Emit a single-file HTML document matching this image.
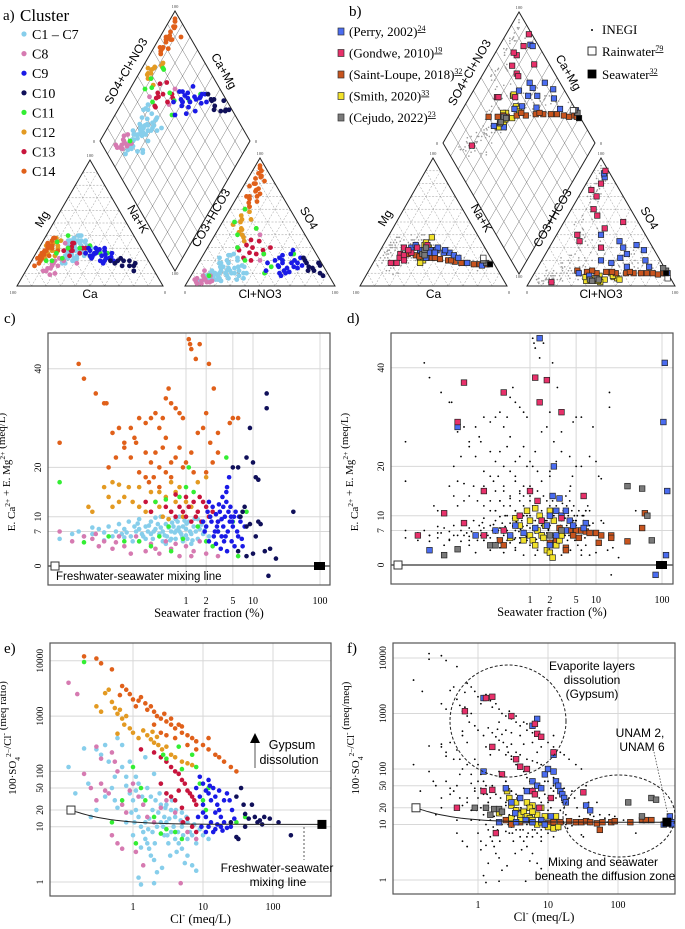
<!DOCTYPE html>
<html><head><meta charset="utf-8"><style>
html,body{margin:0;padding:0;background:#fff}
svg{display:block;font-family:"Liberation Serif",serif}
.sans{font-family:"Liberation Sans",sans-serif}
</style></head><body>
<svg id="fig" width="685" height="929" viewBox="0 0 685 929" xmlns="http://www.w3.org/2000/svg">
<g id="gA"></g>
<g id="gB"></g>
<g id="gC"></g>
<g id="gD"></g>
<g id="gE"></g>
<g id="gF"></g>
<text x="3" y="20" font-size="15">a)</text>
<text x="20" y="21" font-size="17">Cluster</text>
<text x="349" y="16" font-size="15">b)</text>
<text x="4" y="323" font-size="15">c)</text>
<text x="347" y="323" font-size="15">d)</text>
<text x="4" y="653" font-size="15">e)</text>
<text x="347" y="653" font-size="15">f)</text>
</svg>
<script>
// ---------- Piper data panel a: [Ca%, Mg%, Cl%, SO4%] ----------
const pA_lb=[[48,30,14,8],[44,33,18,10],[52,26,12,6],[40,36,22,12],[46,30,16,15],[54,22,20,6],[42,30,26,10],[38,36,18,20],[56,22,10,5],[46,28,18,12],[40,34,14,18],[50,25,24,8],[44,34,18,5],[40,32,30,12],[58,18,10,8],[42,38,12,6],[45,30,20,18],[44,26,32,8],[48,32,15,10],[50,22,22,14],[38,40,15,8],[52,28,18,15],[36,35,24,22],[42,36,26,6],[55,24,12,10],[37,40,17,14],[50,20,28,10],[44,33,12,22],[35,36,32,15],[50,26,24,12],[34,30,36,10],[40,36,20,25],[60,18,8,4],[47,24,15,6],[45,36,32,5],[52,20,15,18],[48,22,36,6],[36,32,22,10],[54,28,22,4],[42,24,18,24],[46,36,28,15],[39,28,12,12],[50,30,34,10],[43,28,25,20],[57,22,18,8],[36,40,14,6],[49,33,30,16],[41,27,20,5],[47,36,17,24],[53,24,26,14]];
const pA_pink=[[72,14,6,3],[68,16,9,4],[66,18,5,6],[76,12,7,2],[70,14,11,5],[64,16,13,3],[67,18,8,8],[60,22,10,2],[74,12,4,5],[58,20,16,4],[69,10,7,12],[50,18,40,20],[64,20,13,8],[50,34,20,30],[44,26,30,40],[73,9,10,6],[62,24,15,3]];
const pA_orange=[[68,27,8,85],[62,32,6,80],[66,28,10,75],[72,22,5,88],[58,36,8,70],[64,30,12,82],[74,20,4,78],[56,38,10,65],[70,26,6,90],[60,32,14,72],[69,25,9,68],[63,32,5,84],[61,30,11,76],[76,18,7,80],[55,38,12,62],[67,28,13,70],[62,34,4,92],[72,24,10,74],[80,16,6,70],[58,28,8,86],[66,24,15,66],[75,22,3,94]];
const pA_gold=[[63,30,12,50],[58,34,15,45],[66,26,10,55],[60,34,18,40],[56,32,14,58],[70,22,8,48],[62,28,20,38],[54,38,12,52],[64,32,16,44],[60,27,10,60],[66,28,22,35],[62,24,15,42],[52,36,25,45],[68,25,12,62],[57,30,18,52]];
const pA_crimson=[[48,28,30,30],[44,26,35,25],[50,30,25,32],[40,30,38,28],[52,24,28,22],[44,34,32,35],[38,30,40,25],[49,28,22,28],[54,28,26,36],[40,26,42,30],[45,34,34,20],[47,31,30,26]];
const pA_green=[[50,30,30,20],[34,32,50,15],[60,26,15,40],[42,30,40,25],[66,20,10,60],[30,26,55,20],[55,35,20,30],[38,24,48,10],[70,20,8,50],[45,40,25,45],[25,26,60,25],[58,22,12,8]];
const pA_blue=[[34,26,55,15],[30,24,60,12],[26,28,62,18],[38,24,50,20],[33,20,58,10],[27,25,65,15],[36,28,52,22],[24,23,68,14],[31,30,56,18],[38,22,48,12],[28,22,63,20],[33,26,60,8],[22,26,66,22],[35,25,54,16],[32,27,58,25],[26,22,64,11],[40,26,46,18],[29,29,61,14],[24,20,70,16],[37,23,53,24],[30,20,58,28],[36,30,62,10],[25,30,55,20],[32,18,66,18]];
const pA_navy=[[17,20,75,15],[15,16,80,12],[21,20,72,18],[12,16,85,10],[18,22,78,14],[24,18,70,20],[13,20,82,16],[20,16,76,12],[10,18,88,8],[26,20,68,22],[14,12,80,18]];
// ---------- Piper data panel b ----------
const pB_perry=[[50,30,10,85],[46,32,8,88],[34,28,50,30],[26,26,60,15],[30,26,55,25],[38,28,45,35],[44,22,40,20],[18,18,75,15],[24,24,65,28],[32,30,52,22],[40,30,30,40],[45,28,30,10],[22,22,70,20],[9,16,90,10],[36,26,48,18],[28,28,58,32],[40,26,38,8]];
const pB_gondwe=[[60,25,8,90],[62,22,10,80],[55,30,12,70],[52,26,20,55],[66,18,15,60],[46,30,30,45],[58,24,18,35],[42,28,40,50],[60,20,15,3],[53,28,14,40],[38,32,35,30],[70,18,6,75]];
const pB_saint=[[55,25,28,12],[50,24,35,11],[45,23,42,10],[40,22,48,11],[35,21,55,10],[30,20,62,10],[26,19,67,10],[22,18,72,10],[18,18,76,10],[14,17,80,10],[10,17,84,9],[7,17,87,10],[5,17,88,10],[48,23,38,12],[38,22,52,11],[28,20,64,11]];
const pB_smith=[[45,25,40,5],[42,28,45,8],[40,24,50,5],[48,22,38,4],[38,30,44,6],[44,22,55,7],[46,26,48,3],[36,28,52,10],[47,20,42,5],[40,32,58,6],[50,18,46,4],[34,28,54,8],[43,26,36,7],[38,34,60,5],[32,38,42,6]];
const pB_cejudo=[[45,25,40,5],[42,28,44,6],[44,24,46,5],[5,18,88,12],[6,20,85,14],[40,30,42,4]];
const pB_sea=[[3,17,89,10]];
const pB_rain=[[5,22,92,6]];
// ---------- Panel c: [seawater %, Ca+Mg meq/L] ----------
const c_lb=[[0.013,5.5],[0.02,6.5],[0.025,7],[0.03,6],[0.04,6.5],[0.05,7.5],[0.06,6.8],[0.07,8],[0.08,6],[0.09,7],[0.1,8.5],[0.11,6.5],[0.12,7.5],[0.14,9],[0.15,6],[0.17,8],[0.18,7],[0.2,9.5],[0.22,6.5],[0.25,8],[0.27,7],[0.3,9],[0.32,5.5],[0.35,7.5],[0.38,8.5],[0.4,6.5],[0.42,10],[0.45,7],[0.5,8.5],[0.52,6],[0.55,9.5],[0.6,7],[0.65,8],[0.7,5.5],[0.75,9],[0.8,7],[0.85,6.5],[0.9,8],[1,7.5],[1.05,5.5],[1.1,9],[1.2,6.5],[1.3,8],[1.4,7],[1.5,5.5],[1.6,7.5],[1.8,6.5],[2,8],[2.2,6],[0.3,6.5],[0.45,5],[0.6,5.5],[0.7,9.5],[0.9,5],[1.2,4.5],[0.5,4.5],[0.25,5.5],[0.16,5],[0.8,10],[1.5,9.5],[0.2,7.5],[0.35,9.8],[0.55,7.8],[1,6.2],[0.12,5.8],[0.06,5.2],[0.04,7.8],[0.28,8.2],[0.33,7],[0.48,6.2],[0.62,8.8],[0.68,6.8],[0.78,7.8],[0.95,9.2],[1.15,7],[1.25,5.2],[1.35,9.6],[1.7,8.4],[1.9,7.2],[0.42,7.8],[0.58,5.2],[0.72,7.2],[0.88,5.8],[1.02,8.6],[0.23,6],[0.19,8.6],[0.13,6.8]];
const c_pink=[[0.013,7],[0.02,5],[0.03,6],[0.04,5.5],[0.05,4],[0.06,5],[0.08,3.5],[0.1,6],[0.12,4],[0.15,2.5],[0.2,5],[0.25,3],[0.3,4.5],[0.4,2.5],[0.5,5],[0.6,3.5],[0.8,2],[1,4],[1.3,3],[1.6,5],[2,2.5],[3,2],[0.18,6],[0.7,4.5],[1.2,2],[0.35,3.5],[0.045,6.5],[0.09,4.8]];
const c_gold=[[0.035,12],[0.04,11],[0.06,16],[0.07,14],[0.08,12],[0.1,13],[0.12,14],[0.14,16],[0.16,13],[0.2,12],[0.25,11],[0.3,15],[0.35,13],[0.4,12],[0.5,14],[0.6,11],[0.7,15],[0.8,16],[1,13],[1.2,12],[1.5,17],[2,18],[0.45,10],[0.55,9.5],[0.9,10],[0.1,16.5],[0.08,17],[0.2,16],[0.3,11],[0.6,17],[0.7,13],[0.4,15]];
const c_orange=[[0.025,41],[0.03,38],[0.045,35],[0.06,33],[0.065,33],[0.013,25],[0.08,27],[0.1,28],[0.12,25],[0.15,28],[0.17,26],[0.2,30],[0.25,29],[0.3,30],[0.35,31],[0.4,28],[0.45,30],[0.5,34],[0.55,36],[0.6,33],[0.7,32],[0.8,31],[0.9,30],[1.1,46],[1.15,45],[1.2,44],[1.4,42],[1.6,45],[2,31],[2.2,41],[2.6,36],[1.5,27],[1.8,28],[2.3,25],[3,23],[0.07,20],[0.09,22],[0.12,24],[0.15,22],[0.2,19],[0.25,18],[0.3,21],[0.35,23],[0.4,20],[0.45,24],[0.5,26],[0.6,21],[0.7,22],[0.8,24],[1,21],[1.3,19],[2,19],[5,30],[6,30],[4.5,29],[3,27],[0.28,17],[0.33,18],[0.4,16],[0.6,18],[0.9,20],[1.2,23],[0.5,19],[0.25,23],[0.18,25],[2.5,21]];
const c_crimson=[[0.5,12],[0.6,11],[0.7,10],[0.8,12],[0.9,11],[1,10],[1.1,12],[1.2,9],[1.3,13],[1.4,10],[1.5,11],[1.7,9],[2,12],[2.2,10],[0.25,13],[0.3,11],[1.8,13],[1.6,14],[2.5,11],[1,14],[0.7,14.5],[3,9]];
const c_green=[[0.013,17],[0.07,6],[0.12,5],[0.3,4],[0.6,3],[0.9,5.5],[1.5,8],[2,5],[3,7],[4,22],[5,9],[6,2],[7,11],[8,11],[0.35,13],[0.5,13.5],[1,16],[1.3,15],[0.8,14],[1.1,20],[0.4,6],[0.55,8],[2.5,4],[0.2,5],[0.03,4.8]];
const c_blue=[[2,8],[2.3,10],[2.5,12],[2.7,7],[3,9],[3.2,11],[3.4,6],[3.6,8],[3.8,10],[4,13],[4.2,7],[4.5,9],[4.8,5],[5,8],[5.5,11],[6,6],[6.5,9],[7,4],[2.2,5],[2.8,4.5],[3.1,12.5],[3.5,14],[4,15],[4.1,16],[4.4,18],[4.6,12],[5.2,10],[3.3,3.5],[2.6,6],[1.9,7],[2.1,11],[2.9,8],[3.7,5],[4.3,11],[5.8,7],[6.2,10],[7.5,8],[1.8,9],[2.4,9],[3,7],[3.9,6],[4.7,10],[5.3,4],[2.2,13],[2.8,10.5],[3.4,9.5],[3.6,12],[4.9,9],[4.1,3],[6.8,5.5]];
const c_navy=[[6,20],[9,28],[16,35],[16,32],[11,18],[12,17.5],[8,22],[10,21],[7,11],[7.5,12],[8,8],[9,8.5],[12,9],[13,8.5],[40,11],[6,3],[8,2],[10,2.5],[15,3],[18,3.5],[22,1.5],[17,-2],[5,20],[6.5,10],[11,6]];
// ---------- Panel e: [Cl meq/L, 100*SO4/Cl] ----------
const e_lb=[[0.12,120],[0.15,40],[0.2,260],[0.23,60],[0.3,250],[0.35,200],[0.4,300],[0.45,150],[0.5,50],[0.55,80],[0.6,400],[0.7,120],[0.8,80],[0.9,40],[1,30],[1.1,20],[1.2,15],[1.3,10],[1.4,8],[1.5,6],[1.6,5],[1.7,4],[1.8,3],[2,2.5],[2.2,1.5],[2.5,25],[3,12],[3.5,8],[4,6],[4.5,5],[5,4],[6,3],[7,2],[8,1.6],[0.25,15],[0.3,20],[0.4,35],[0.6,22],[0.8,12],[1,7],[1.2,1.2],[1.3,0.9],[2,0.95],[1.5,180],[2,90],[2.5,60],[3,40],[3.5,20],[4,15],[5,10],[6,12],[7,7],[8,5],[9,9],[10,7],[12,6],[1.8,35],[2.8,15],[0.9,150],[1.1,80],[1.6,50],[0.7,300],[2.2,10],[3.2,5],[4.2,3.5],[5.5,2.2],[1.3,4.2],[0.55,30],[2.6,1.8],[1.9,20],[2.4,40],[3,25],[4,30],[1.5,12],[0.8,55],[2.8,7],[5,18],[6.5,8],[1.2,60],[1.4,25],[1.7,14],[2.1,30],[2.3,18],[2.7,10],[3.3,14],[3.8,10],[4.4,8],[5.2,7],[6,6],[1.1,45],[1.9,8],[2.5,12],[3.1,7],[3.6,30],[4.8,13],[0.95,18],[1.35,35],[2.9,22],[4.1,20],[5.8,15],[7.5,11],[1.65,9],[2.05,5],[3.4,3],[1.05,12]];
const e_pink=[[0.12,4000],[0.16,2500],[0.2,90],[0.25,50],[0.3,30],[0.35,60],[0.4,45],[0.45,40],[0.5,220],[0.55,150],[0.6,100],[0.7,25],[0.8,18],[0.9,45],[1,60],[1.2,35],[1.4,25],[1.6,15],[2,12],[2.5,22],[3,30],[4,18],[5,12],[6,8],[8,6],[0.5,7],[0.6,5],[0.7,4],[1.1,3.5],[1.4,2],[4.8,0.95],[0.3,280],[0.35,170]];
const e_gold=[[0.3,1500],[0.35,1200],[0.4,2600],[0.5,1800],[0.55,1400],[0.6,1100],[0.7,900],[0.75,700],[0.9,600],[1,500],[1.2,400],[1.4,550],[1.6,450],[1.8,380],[2,330],[2.3,300],[2.6,250],[3,280],[3.5,200],[4,180],[5,150],[6,140],[7,130],[2.2,420],[1.9,520],[0.6,480],[0.8,1000],[0.45,3000],[0.65,1300]];
const e_orange=[[0.2,12000],[0.3,11000],[0.35,9000],[0.5,7000],[0.7,3500],[0.8,3000],[0.9,2500],[1,2000],[1.2,1900],[1.3,2200],[1.5,1700],[1.8,1500],[2,1200],[2.2,1000],[2.5,900],[3,800],[3.5,700],[4,600],[4.5,700],[5,500],[6,450],[7,400],[8,350],[10,300],[12,250],[15,200],[20,150],[25,120],[30,100],[2,700],[2.5,500],[3,450],[4,400],[6,300],[8,250],[1.6,1300],[2.8,1100],[3.5,900],[5,650],[0.65,2400],[1.1,1500],[12,400],[17,180]];
const e_crimson=[[1.3,250],[2,220],[2.5,180],[3,150],[3.5,120],[4,100],[4.5,90],[5,70],[5.5,60],[6,45],[6.5,40],[7,35],[7.5,30],[8,25],[3,40],[3.5,35],[4,30],[5,22],[6,14],[7,10],[8,8],[2.5,60],[5.2,12],[4.5,45]];
const e_green=[[0.2,9500],[2.7,200],[3,170],[1,120],[1.3,50],[1.5,30],[2,15],[2.5,7.5],[3,9],[4,8],[5,6],[7,200],[8,120],[9,60],[10,30],[11,20],[12,50],[4.5,280],[5,110],[30,12],[40,15],[1.1,5],[0.7,30],[0.5,12]];
const e_blue=[[9,80],[10,60],[11,45],[12,40],[13,30],[14,50],[15,35],[16,25],[17,20],[18,15],[20,12],[22,40],[24,30],[26,20],[11,15],[12,10],[13,12],[14,8],[15,9],[16,11],[18,10],[10,25],[9,35],[8,50],[8.5,15],[9.5,10],[12,70],[20,30],[25,10],[28,14],[10,18],[12.5,55],[15,18],[17,45],[19,8.5],[22,9.5],[11,8]];
const e_navy=[[30,35],[35,50],[38,25],[40,17],[45,14],[50,25],[55,15],[60,12],[65,13],[75,15],[90,14],[120,12],[180,7],[30,6.5],[32,6],[40,10],[25,12],[70,11]];
// ---------- Panel d squares ----------
const d_perry=[[1.4,46],[110,41],[105,29],[120,15],[115,2],[80,-2],[2.3,20],[2.2,14],[2.8,13.5],[0.08,28],[0.03,3],[1.5,9],[2,10],[2.5,11],[3,10],[3.5,11],[4,9],[4.5,8],[7,8.5],[6.5,7.5],[0.15,6],[0.3,7],[0.5,6],[0.8,6.5],[1.2,7.5],[1.8,8],[2.5,6],[3.5,7],[2,4],[0.6,8]];
const d_gondwe=[[0.1,37],[1.2,38],[1.8,37.5],[0.4,35],[1.4,33],[3,31],[0.08,29],[0.2,15],[1,15],[1.3,13],[6.5,14],[0.05,10.5],[0.1,8.5],[0.02,6],[0.7,10],[1.5,9],[3,9.5],[0.2,6],[0.4,7]];
const d_saint=[[4,7],[5,7],[6,7],[7,6.8],[8,6.5],[10,6.5],[12,6],[17,6],[17,5.5],[11,4.5],[30,4.8],[50,7.5],[55,10.5],[3.5,3.5],[3.5,3],[2.5,5],[3,6.5],[2,4.5],[0.35,5],[0.4,4],[1.5,6],[2.8,7.5],[4.5,6],[5.5,5.5]];
const d_smith=[[0.6,9.5],[0.7,8],[0.9,11],[1,6],[1.1,5],[1.2,4],[1.3,7],[1.5,6],[1.6,5.5],[1.8,3],[2,2.5],[2.2,1.5],[2.5,4],[2.8,5],[3,6],[0.8,5],[1,9],[1.4,10],[2,11],[1.7,8],[0.5,5.5],[1.2,11.5],[2.3,9]];
const d_cejudo=[[0.08,3.2],[0.05,2],[0.25,4],[0.3,4],[30,16],[50,15.5],[60,10],[70,5],[2,6],[3,7]];
// ---------- Panel f squares ----------
const f_perry=[[1.2,1900],[7,800],[6,600],[12,180],[13,60],[14,50],[15,40],[16,35],[17,30],[18,25],[6,60],[7,50],[8,45],[9,80],[10,100],[12,90],[5,40],[4,30],[3,25],[2.5,45],[1.2,90],[35,22],[40,18],[550,14],[600,11],[650,10],[450,10],[11,14],[3.5,11],[2,11],[6,11],[8,12],[4.8,12],[3.4,16],[9,10]];
const f_gondwe=[[0.65,1100],[1.6,2000],[1.3,1900],[3,900],[6.5,650],[7,430],[8,380],[1.6,250],[12,200],[3.5,150],[4,110],[5,100],[2.2,80],[1.2,40],[1.6,42],[0.5,20],[1.8,7],[6,40],[6.5,35],[11,30],[32,38],[7.5,20]];
const f_saint=[[15,11],[20,11.5],[25,11],[30,11],[35,11.5],[40,11],[50,10.5],[60,11],[80,11],[90,11.5],[150,11],[220,12],[250,12],[300,12],[55,8],[2.5,12],[3,10],[4,11],[12,11],[10,10.5],[8,11],[6,11],[5,12]];
const f_smith=[[2.6,40],[2.8,30],[3,22],[3.5,18],[4,15],[4.5,17],[5,14],[5.5,13],[6,12],[7,10],[8,11],[9,10],[10,9],[12,8.5],[14,9],[3.5,25],[5,25],[6,22],[8,20],[2,16],[4,12],[5.5,20],[7,15],[9,14],[13,14],[3,13],[6,17]];
const f_cejudo=[[0.9,20],[1.3,20],[1.7,19],[2,19],[2.2,17],[1.5,15],[140,25],[300,30],[350,28],[220,14]];
// tick labels
const cxTicks=[1,2,5,10,100];
const cyTicks=[0,7,10,20,40];
const exTicks=[1,10,100];
const eyTicks=[1,10,20,50,100,1000,10000];

const NS='http://www.w3.org/2000/svg';
const COL={lb:'#87ceeb',pink:'#d67ab1',gold:'#e39a22',orange:'#e0601a',crimson:'#c8143c',green:'#33ee33',blue:'#1a1ae6',navy:'#10105a',
 perry:'#4a6cf0',gondwe:'#e8306a',saint:'#c8541e',smith:'#f2e22a',cejudo:'#7a7a7a'};
function mk(tag,attrs,parent,txt){const e=document.createElementNS(NS,tag);for(const k in attrs)e.setAttribute(k,attrs[k]);if(txt!==undefined)e.textContent=txt;parent.appendChild(e);return e;}
const lerp=(a,b,t)=>[a[0]+(b[0]-a[0])*t,a[1]+(b[1]-a[1])*t];

function piper(g,cfg,series,bgSeries){
  const {A,B,C,H,Cv,S,L,T,Bd,R}=cfg;
  const grid=mk('g',{stroke:'#999','stroke-width':0.5,'stroke-dasharray':'2,1.5',fill:'none'},g);
  
  
  [[A,B,C],[H,Cv,S]].forEach(tri=>{
    for(let i=1;i<10;i++){const t=i/10;
      for(let v=0;v<3;v++){const V=tri[v],P=tri[(v+1)%3],Q=tri[(v+2)%3];const p1=lerp(V,P,t),p2=lerp(V,Q,t);
        mk('line',{x1:p1[0],y1:p1[1],x2:p2[0],y2:p2[1]},grid);}
    }});
  const dg=mk('g',{stroke:'#777','stroke-width':0.5,fill:'none'},g);
  
  
  for(let i=1;i<10;i++){const t=i/10;
    let p1=lerp(L,T,t),p2=lerp(Bd,R,t);mk('line',{x1:p1[0],y1:p1[1],x2:p2[0],y2:p2[1]},dg);
    p1=lerp(L,Bd,t);p2=lerp(T,R,t);mk('line',{x1:p1[0],y1:p1[1],x2:p2[0],y2:p2[1]},dg);}
  const ol=mk('g',{stroke:'#222','stroke-width':1,fill:'none'},g);
  
  
  mk('polygon',{points:[A,B,C].map(p=>p.join(',')).join(' ')},ol);
  mk('polygon',{points:[H,Cv,S].map(p=>p.join(',')).join(' ')},ol);
  mk('polygon',{points:[L,T,R,Bd].map(p=>p.join(',')).join(' ')},ol);
  const pos=s=>{const ca=s[0],mg=s[1],na=100-ca-mg,cl=s[2],so=s[3],hc=100-cl-so;
    const c1=[(ca*A[0]+na*B[0]+mg*C[0])/100,(ca*A[1]+na*B[1]+mg*C[1])/100];
    const c2=[(hc*H[0]+cl*Cv[0]+so*S[0])/100,(hc*H[1]+cl*Cv[1]+so*S[1])/100];
    const a=(cl+so)/100,n=na/100;
    const c3=[L[0]+a*(T[0]-L[0])+n*(Bd[0]-L[0]),L[1]+a*(T[1]-L[1])+n*(Bd[1]-L[1])];
    return [c1,c2,c3];};
  if(bgSeries){const bg=mk('g',{fill:'#999'},g);
    
    
    bgSeries.forEach(arr=>arr.forEach(s=>pos(s).forEach(p=>mk('circle',{cx:p[0],cy:p[1],r:0.8},bg))));}
  series.forEach(se=>{const sg=mk('g',{},g);
    
    
    se.data.forEach(s=>pos(s).forEach(p=>{
      if(se.sq){const e=mk('rect',{x:p[0]-2.7,y:p[1]-2.7,width:5.4,height:5.4,fill:se.col,stroke:'#222','stroke-width':0.7},sg);
        
        }
      else{const e=mk('circle',{cx:p[0],cy:p[1],r:2.4,fill:se.col},sg);
        
        }
    }));});
  const lab=(x,y,rot,t,nm,fs)=>{const e=mk('text',{x:x,y:y,'font-size':fs||12,'text-anchor':'middle',class:'sans',transform:`rotate(${rot} ${x} ${y})`},g,t);
    
    };
  const mid=(p,q)=>[(p[0]+q[0])/2,(p[1]+q[1])/2];
  let m=mid(A,C);lab(m[0]-8,m[1]-2,-60,'Mg','cation-mg-label');
  m=mid(B,C);lab(m[0]+8,m[1]-2,60,'Na+K','cation-nak-label');
  lab((A[0]+B[0])/2,B[1]+12,0,'Ca','cation-ca-label');
  m=mid(H,S);lab(m[0]-8,m[1]-2,-60,'CO3+HCO3','anion-hco3-label');
  m=mid(Cv,S);lab(m[0]+8,m[1]-2,60,'SO4','anion-so4-label');
  lab((H[0]+Cv[0])/2,Cv[1]+12,0,'Cl+NO3','anion-cl-label');
  m=mid(L,T);lab(m[0]-8,m[1]-3,-60,'SO4+Cl+NO3','diamond-so4cl-label');
  m=mid(T,R);lab(m[0]+8,m[1]-3,60,'Ca+Mg','diamond-camg-label');
  [[A,'100',-4,8],[B,'0',2,8],[C,'100',0,-3],[H,'0',0,8],[Cv,'100',0,8],[S,'100',0,-3],[L,'0',-6,2],[R,'0',6,2],[T,'100',0,-3],[Bd,'100',0,4]].forEach(v=>{
    const e=mk('text',{x:v[0][0]+v[2],y:v[0][1]+v[3],'font-size':4.5,'text-anchor':'middle',fill:'#444'},g,v[1]);
    
    });
}
const gA=document.getElementById('gA'),gB=document.getElementById('gB');
piper(gA,{A:[17,286],B:[163,286],C:[90,160],H:[185,286],Cv:[335,286],S:[260,158],L:[100,141],T:[175,11],Bd:[175,271],R:[250,141]},
 [{name:'cluster-c1-c7',data:pA_lb,col:COL.lb},{name:'cluster-c8',data:pA_pink,col:COL.pink},{name:'cluster-c12',data:pA_gold,col:COL.gold},{name:'cluster-c14',data:pA_orange,col:COL.orange},{name:'cluster-c13',data:pA_crimson,col:COL.crimson},{name:'cluster-c11',data:pA_green,col:COL.green},{name:'cluster-c9',data:pA_blue,col:COL.blue},{name:'cluster-c10',data:pA_navy,col:COL.navy}]);
piper(gB,{A:[360,286],B:[507,286],C:[433,158],H:[527,286],Cv:[675,286],S:[601,158],L:[443,143],T:[519,12],Bd:[519,274],R:[595,143]},
 [{name:'smith-2020',data:pB_smith,col:COL.smith,sq:1},{name:'saint-loupe-2018',data:pB_saint,col:COL.saint,sq:1},{name:'perry-2002',data:pB_perry,col:COL.perry,sq:1},{name:'gondwe-2010',data:pB_gondwe,col:COL.gondwe,sq:1},{name:'cejudo-2022',data:pB_cejudo,col:COL.cejudo,sq:1},{name:'rainwater',data:pB_rain,col:'#fff',sq:1},{name:'seawater',data:pB_sea,col:'#000',sq:1}],
 [pA_lb,pA_pink,pA_gold,pA_orange,pA_crimson,pA_green,pA_blue,pA_navy]);

const lgA=[['C1 – C7',COL.lb],['C8',COL.pink],['C9',COL.blue],['C10',COL.navy],['C11',COL.green],['C12',COL.gold],['C13',COL.crimson],['C14',COL.orange]];
lgA.forEach((l,i)=>{const y=34+i*19.6;const g=mk('g',{},gA);
  
  
  mk('circle',{cx:24,cy:y,r:2.6,fill:l[1]},g);mk('text',{x:32,y:y+5,'font-size':14},g,l[0]);});
const lgB=[['(Perry, 2002)','24',COL.perry],['(Gondwe, 2010)','19',COL.gondwe],['(Saint-Loupe, 2018)','32',COL.saint],['(Smith, 2020)','33',COL.smith],['(Cejudo, 2022)','23',COL.cejudo]];
lgB.forEach((l,i)=>{const y=32+i*21.5;const g=mk('g',{},gB);
  
  
  mk('rect',{x:338,y:y-4,width:6,height:7,fill:l[2],stroke:'#333','stroke-width':0.7},g);
  const t=mk('text',{x:349,y:y+4,'font-size':13},g,l[0]);mk('tspan',{'font-size':8,dy:-5,'text-decoration':'underline'},t,l[1]);});
[['INEGI',null,30],['Rainwater','79',52],['Seawater','32',75]].forEach((l,i)=>{const g=mk('g',{},gB);
  
  
  if(i==0)mk('circle',{cx:592,cy:l[2],r:1,fill:'#000'},g);
  else mk('rect',{x:588,y:l[2]-5,width:8,height:8,fill:i==1?'#fff':'#000',stroke:'#000','stroke-width':0.8},g);
  const t=mk('text',{x:602,y:l[2]+4,'font-size':13},g,l[0]);if(l[1])mk('tspan',{'font-size':8,dy:-5,'text-decoration':'underline'},t,l[1]);});

function frame(g,box,xs,ys,xt,yt,xlOff){
  const [x0,y0,x1,y1]=box;
  const gr=mk('g',{stroke:'#d8d8d8','stroke-width':1},g);
  
  
  xt.forEach(v=>mk('line',{x1:xs(v),y1:y0,x2:xs(v),y2:y1},gr));
  yt.forEach(v=>mk('line',{x1:x0,y1:ys(v),x2:x1,y2:ys(v)},gr));
  const xa=mk('g',{'font-size':10,'text-anchor':'middle'},g);
  
  
  xt.forEach(v=>mk('text',{x:xs(v),y:y1+xlOff},xa,String(v)));
  const ya=mk('g',{'font-size':9.5,'text-anchor':'middle'},g);
  
  
  yt.forEach(v=>{const x=x0-10,y=ys(v);mk('text',{x:x,y:y+3,transform:`rotate(-90 ${x} ${y})`},ya,String(v));});
}
function box(g,b){const e=mk('rect',{x:b[0],y:b[1],width:b[2]-b[0],height:b[3]-b[1],fill:'none',stroke:'#555','stroke-width':1.2},g);
  
  }
function dots(g,arr,xs,ys,col,r,nm,b){const sg=mk('g',{fill:col},g);
  
  
  arr.forEach(p=>{const x=xs(p[0]),y=ys(p[1]);if(x<b[0]||x>b[2]||y<b[1]||y>b[3])return;
    const e=mk('circle',{cx:x,cy:y,r:r},sg);
    
    });}
function squares(g,arr,xs,ys,col,nm,b){const sg=mk('g',{fill:col,stroke:'#222','stroke-width':0.7},g);
  
  
  arr.forEach(p=>{let x=xs(p[0]),y=ys(p[1]);x=Math.min(Math.max(x,b[0]+3),b[2]-3);
    const e=mk('rect',{x:x-2.8,y:y-2.8,width:5.6,height:5.6},sg);
    
    });}
const L10=Math.log10;
const clusterC=[[c_lb,COL.lb,'c1-c7'],[c_pink,COL.pink,'c8'],[c_gold,COL.gold,'c12'],[c_orange,COL.orange,'c14'],[c_crimson,COL.crimson,'c13'],[c_green,COL.green,'c11'],[c_blue,COL.blue,'c9'],[c_navy,COL.navy,'c10']];
const clusterE=[[e_lb,COL.lb,'c1-c7'],[e_pink,COL.pink,'c8'],[e_gold,COL.gold,'c12'],[e_orange,COL.orange,'c14'],[e_crimson,COL.crimson,'c13'],[e_green,COL.green,'c11'],[e_blue,COL.blue,'c9'],[e_navy,COL.navy,'c10']];

function ylab(g,x,y,parts,nm){const t=mk('text',{x:x,y:y,'font-size':11,'text-anchor':'middle',transform:`rotate(-90 ${x} ${y})`},g);
  
  
  parts.forEach(p=>{if(typeof p==='string')mk('tspan',{},t,p);else mk('tspan',{'font-size':7.5,dy:p[1]},t,p[0]);});}

function panelCD(g,b,xs,ys,isD){
  frame(g,b,xs,ys,cxTicks,cyTicks,19);
  const ml=mk('line',{x1:b[0],y1:ys(0),x2:b[2],y2:ys(0),stroke:'#333','stroke-width':1.2},g);
  
  
  if(!isD){clusterC.forEach(c=>dots(g,c[0],xs,ys,c[1],2.3,'cluster-'+c[2],b));}
  else{clusterC.forEach(c=>dots(g,c[0],xs,ys,'#000',0.9,'inegi-points',b));
    squares(g,d_saint,xs,ys,COL.saint,'saint-loupe-2018',b);squares(g,d_smith,xs,ys,COL.smith,'smith-2020',b);
    squares(g,d_perry,xs,ys,COL.perry,'perry-2002',b);squares(g,d_gondwe,xs,ys,COL.gondwe,'gondwe-2010',b);squares(g,d_cejudo,xs,ys,COL.cejudo,'cejudo-2022',b);}
  const rw=mk('rect',{x:b[0]+3,y:ys(0)-4,width:8,height:8,fill:'#fff',stroke:'#333'},g);
  
  
  [xs(100)-3,xs(100)+2].forEach(x=>{const s=mk('rect',{x:x-3,y:ys(0)-4,width:6,height:8,fill:'#000'},g);
    
    });
  box(g,b);
  const xl=mk('text',{x:(b[0]+b[2])/2+20,y:b[3]+32,'font-size':12.5,'text-anchor':'middle'},g,'Seawater fraction (%)');
  
  
  ylab(g,b[0]-33,472,['E. Ca',['2+',-5],['',5],' + E. Mg',['2+',-5],['',5],' (meq/L)'],'y-axis-title');
}
const bC=[48,333,330,585],bD=[391,333,673,584];
const gC=document.getElementById('gC'),gD=document.getElementById('gD');
panelCD(gC,bC,v=>186+67*L10(v),v=>566-4.93*v,false);
panelCD(gD,bD,v=>530+66*L10(v),v=>565-4.93*v,true);
{const t=mk('text',{x:56,y:580,'font-size':11.5,class:'sans'},gC,'Freshwater-seawater mixing line');
 
 }

function panelEF(g,b,xs,ys,isF){
  frame(g,b,xs,ys,exTicks,eyTicks,14);
  if(!isF){clusterE.forEach(c=>dots(g,c[0],xs,ys,c[1],2.3,'cluster-'+c[2],b));}
  else{clusterE.forEach(c=>dots(g,c[0],xs,ys,'#000',0.9,'inegi-points',b));
    squares(g,f_saint,xs,ys,COL.saint,'saint-loupe-2018',b);squares(g,f_smith,xs,ys,COL.smith,'smith-2020',b);
    squares(g,f_perry,xs,ys,COL.perry,'perry-2002',b);squares(g,f_gondwe,xs,ys,COL.gondwe,'gondwe-2010',b);squares(g,f_cejudo,xs,ys,COL.cejudo,'cejudo-2022',b);}
  let d='';for(let i=0;i<=60;i++){const f=Math.pow(10,-6+6*i/60);const cl=0.13*(1-f)+550*f,so=0.026*(1-f)+60.5*f;
    const x=xs(cl),y=ys(100*so/cl);d+=(i?'L':'M')+x.toFixed(1)+','+y.toFixed(1);}
  const mc=mk('path',{d:d,fill:'none',stroke:'#222','stroke-width':1},g);
  
  
  const rw=mk('rect',{x:xs(0.13)-4,y:ys(20)-4,width:8,height:8,fill:'#fff',stroke:'#333'},g);
  
  
  const sw=mk('rect',{x:xs(500)-4.5,y:ys(11)-4.5,width:9,height:9,fill:'#000'},g);
  
  
  box(g,b);
  const xl=mk('text',{x:(b[0]+b[2])/2+10,y:b[3]+27,'font-size':13,'text-anchor':'middle'},g);
  
  
  mk('tspan',{},xl,'Cl');mk('tspan',{'font-size':8,dy:-5},xl,'-');mk('tspan',{dy:5},xl,'  (meq/L)');
  ylab(g,b[0]-34,738,['100·SO',['4',4],['2−',-9],['',5],'/Cl',['-',-5],['',5],isF?' (meq/meq)':' (meq ratio)'],'y-axis-title');
}
const bE=[50,643,331,896],bF=[393,643,675,894];
const gE=document.getElementById('gE'),gF=document.getElementById('gF');
panelEF(gE,bE,v=>133+70*L10(v),v=>882-55.3*L10(v),false);
panelEF(gF,bF,v=>478+70*L10(v),v=>880-55.5*L10(v),true);
{const a=mk('g',{},gE);
 mk('line',{x1:255,y1:768,x2:255,y2:742,stroke:'#aaa','stroke-width':2},a);
 mk('polygon',{points:'250,743 260,743 255,733',fill:'#000'},a);
 const t=mk('text',{x:292,y:749,'font-size':12.5,'text-anchor':'middle',class:'sans'},gE);
 mk('tspan',{x:292},t,'Gypsum');mk('tspan',{x:289,dy:15},t,'dissolution');
 mk('line',{x1:304,y1:827,x2:304,y2:860,stroke:'#333','stroke-width':0.8,'stroke-dasharray':'2,2'},gE);
 const t2=mk('text',{x:276,y:872,'font-size':12,'text-anchor':'middle',class:'sans'},gE);
 mk('tspan',{x:277},t2,'Freshwater-seawater');mk('tspan',{x:278,dy:14},t2,'mixing line');}
{const e1=mk('ellipse',{cx:508,cy:721,rx:58,ry:56,fill:'none',stroke:'#222','stroke-width':1,'stroke-dasharray':'3,2'},gF);
 
 const e2=mk('ellipse',{cx:619,cy:816,rx:56,ry:41,fill:'none',stroke:'#222','stroke-width':1,'stroke-dasharray':'3,2'},gF);
 
 const t=mk('text',{'font-size':12,'text-anchor':'middle',class:'sans'},gF);
 mk('tspan',{x:592,y:670},t,'Evaporite layers');mk('tspan',{x:592,dy:14},t,'dissolution');mk('tspan',{x:592,dy:14},t,'(Gypsum)');
 const u=mk('text',{'font-size':12,'text-anchor':'middle',class:'sans'},gF);
 mk('tspan',{x:640,y:737},u,'UNAM 2,');mk('tspan',{x:642,dy:14},u,'UNAM 6');
 mk('line',{x1:654,y1:752,x2:668,y2:815,stroke:'#333','stroke-width':0.7,'stroke-dasharray':'1.5,1.5'},gF);
 const m=mk('text',{'font-size':12,'text-anchor':'middle',class:'sans'},gF);
 mk('tspan',{x:603,y:866},m,'Mixing and seawater');mk('tspan',{x:605,dy:14},m,'beneath the diffusion zone');}
</script>
</body></html>
